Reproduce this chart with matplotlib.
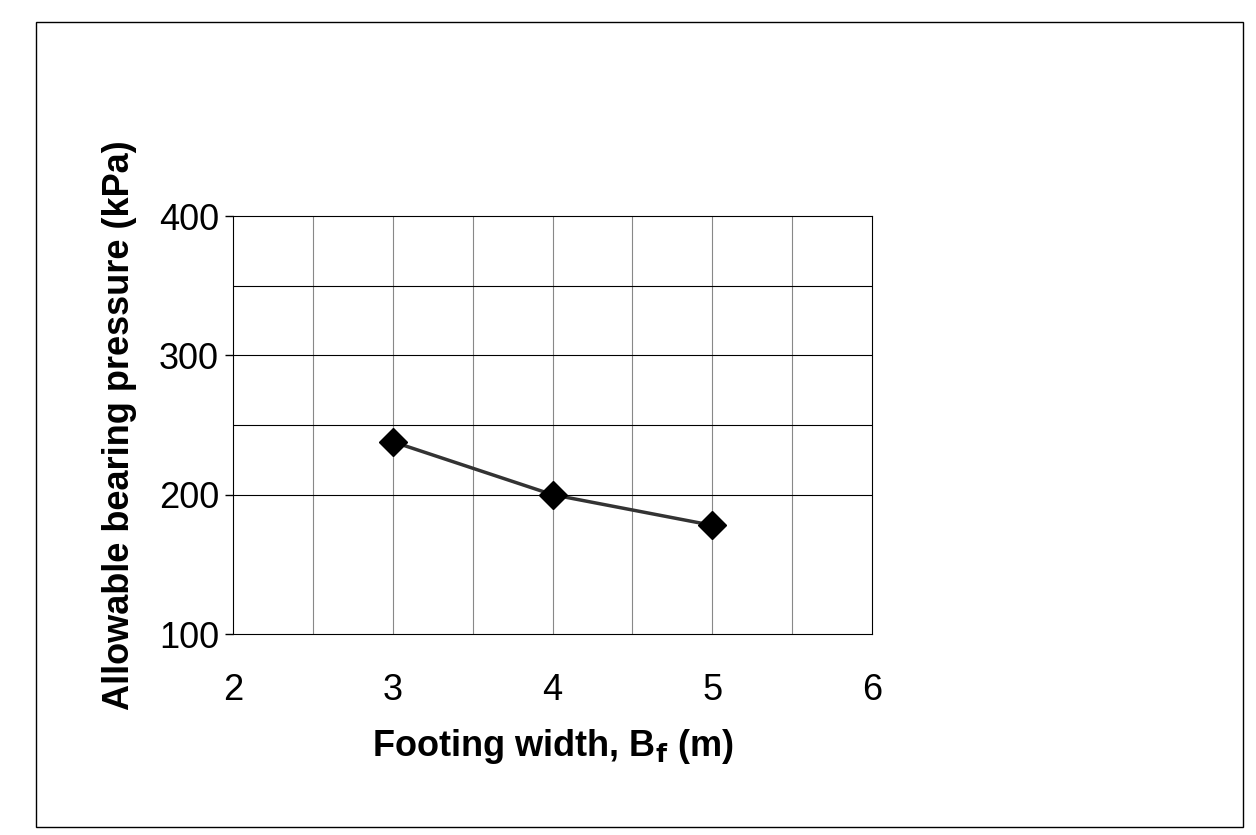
import matplotlib
matplotlib.use("Agg")
import matplotlib.pyplot as plt
from matplotlib.patches import Rectangle

widths = [3, 4, 5]
pressures = [238, 200, 178]
xticks = [2, 3, 4, 5, 6]
yticks = [100, 200, 300, 400]

plt.rcParams['font.family'] = ['Liberation Sans', 'DejaVu Sans']
fig = plt.figure(figsize=(12.56, 8.35), dpi=100)
fig.patches.append(Rectangle((36/1256, 1-827/835), (1243-36)/1256, (827-22)/835,
                             transform=fig.transFigure, fill=False, edgecolor='black', lw=1))
ax = fig.add_axes([233/1256, 1-634/835, (872-233)/1256, (634-216)/835])
ax.set_xlim(2, 6)
ax.set_ylim(100, 400)
for x in [2.5, 3, 3.5, 4, 4.5, 5, 5.5]:
    ax.axvline(x, color='#888888', lw=0.8, zorder=0)
for y in [200, 250, 300, 350]:
    ax.axhline(y, color='black', lw=0.8, zorder=0)
ax.plot(widths, pressures, color='#333333', lw=2.5, marker='D', markersize=14,
        markerfacecolor='black', markeredgecolor='black', zorder=3)
ax.set_xticks(xticks)
ax.set_yticks(yticks)
ax.tick_params(labelsize=26, length=6, width=1, direction='out')
ax.tick_params(axis='x', pad=28, length=0)
ax.tick_params(axis='y', pad=4)
for s in ['top', 'right']:
    ax.spines[s].set_linewidth(0.8)
ax.set_xlabel('Footing width, B$_\\mathbf{f}$ (m)', fontsize=26, fontweight='bold', labelpad=14)
ax.set_ylabel('Allowable bearing pressure (kPa)', fontsize=26, fontweight='bold', labelpad=16)
fig.savefig('out.png', dpi=100)
